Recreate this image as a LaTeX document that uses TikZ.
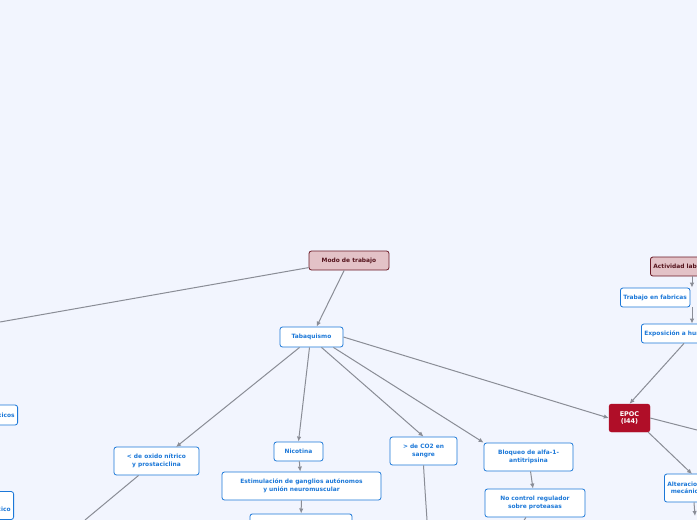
\documentclass[tikz,border=0pt]{standalone}
\usepackage{fontspec}
\setmainfont{DejaVu Sans}
\usetikzlibrary{arrows.meta}
\definecolor{bg}{HTML}{F2F5FE}
\definecolor{bl}{HTML}{1C78D8}
\definecolor{cn}{HTML}{8A8D96}
\definecolor{rf}{HTML}{E3C2C7}
\definecolor{rd}{HTML}{6B1A26}
\definecolor{ep}{HTML}{B00E28}
\tikzset{
 bx/.style={draw=bl,fill=white,text=bl,rounded corners=2.5pt,line width=0.8pt,font=\bfseries\fontsize{5.9}{7.5}\selectfont,align=center,inner sep=3pt},
 mb/.style={draw=rd,fill=rf,text=rd!80!black,rounded corners=2.5pt,line width=0.8pt,font=\bfseries\fontsize{5.9}{7.5}\selectfont,inner sep=3pt},
 ar/.style={draw=cn,line width=1pt,-{Latex[length=5pt,width=4.5pt]}},
 ln/.style={draw=cn,line width=1pt}
}
\begin{document}
\begin{tikzpicture}[x=1pt,y=-1pt]
\fill[bg] (0,0) rectangle (697,520);
\useasboundingbox (0,0) rectangle (697,520);
\clip (0,0) rectangle (697,520);
\node[mb,minimum width=80,minimum height=19] (modo) at (349,260.5) {Modo de trabajo};
\node[mb,anchor=west,minimum height=19] (act) at (650,266.5) {Actividad laboral};
\node[bx,anchor=west,minimum height=19] (fab) at (620,297.5) {Trabajo en fabricas};
\node[bx,anchor=west,minimum height=19] (exp) at (641,333.5) {Exposición a humos};
\node[draw=ep,fill=ep,text=white,rounded corners=2.5pt,font=\bfseries\fontsize{6.5}{7.5}\selectfont,align=center,minimum width=41,minimum height=28,inner sep=2pt] (epoc) at (629.5,418) {EPOC\\(I44)};
\node[bx,anchor=west,minimum height=28] (alt) at (664,488) {Alteraciones\\mecánicas};
\node[bx,minimum width=63,minimum height=20] (tab) at (311.5,337) {Tabaquismo};
\node[bx,minimum width=85,minimum height=28] (oxi) at (156.5,461) {< de oxido nítrico\\y prostaciclina};
\node[bx,minimum width=49,minimum height=19] (nic) at (298.5,451.5) {Nicotina};
\node[bx,minimum width=159,minimum height=28] (est) at (301.5,486) {Estimulación de ganglios autónomos\\y unión neuromuscular};
\node[bx,minimum width=102,minimum height=28,anchor=north] (nx) at (301,513.5) {Liberación de\\catecolaminas};
\node[bx,minimum width=67,minimum height=28] (co2) at (423.5,451) {> de CO2 en\\sangre};
\node[bx,minimum width=89,minimum height=28] (alf) at (528.5,457) {Bloqueo de alfa-1-\\antitripsina};
\node[bx,minimum width=100,minimum height=28] (pro) at (535,503) {No control regulador\\sobre proteasas};
\node[bx,anchor=east,minimum height=20] (l1) at (18,415) {Efectos tóxicos};
\node[bx,anchor=east,minimum height=28] (l2) at (14,505.5) {Daño\\endotelial tóxico};
\coordinate (e1) at (0,322);
\coordinate (e2) at (85,520);
\coordinate (e3) at (427,520);
\coordinate (e4) at (523,522);
\coordinate (e5) at (697,430);
\coordinate (e6) at (695,516);
\coordinate (a1) at (692,276);
\coordinate (a2) at (692,307);
\coordinate (a3) at (176,447);
\coordinate (a4) at (692,474);
\draw[ln] (modo) -- (e1);
\draw[ar] (modo) -- (tab);
\draw[ar] (a1) -- (a1|-fab.north);
\draw[ar] (a2) -- (a2|-exp.north);
\draw[ar] (exp.south west)++(43,0) -- (epoc.north);
\draw[ar] (tab.south west)++(20,0) -- (a3);
\draw[ar] (tab.south)++(-2,0) -- (nic.north);
\draw[ar] (nic) -- (est);
\draw[ar] (est) -- (nx);
\draw[ar] (tab.south)++(10,0) -- (co2.north);
\draw[ar] (tab.south east)++(-10,0) -- (alf.north west);
\draw[ar] (tab.east) -- (epoc.west);
\draw[ar] (alf) -- (pro);
\draw[ln] (oxi.south west)++(25,0) -- (e2);
\draw[ln] (co2.south) .. controls (425,490) .. (e3);
\draw[ln] (pro) -- (e4);
\draw[ln] (epoc.east) -- (e5);
\draw[ar] (epoc.south east)++(-2,0) -- (a4);
\draw[ar] (alt.south west)++(30,0) -- (e6);
\end{tikzpicture}
\end{document}
